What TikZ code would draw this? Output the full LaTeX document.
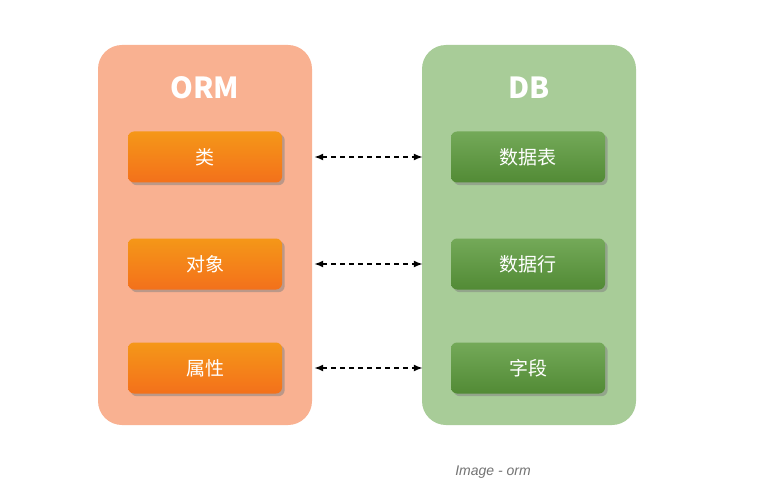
\documentclass[tikz,border=0pt]{standalone}
\usepackage{fontspec}
\setmainfont{Liberation Sans}
\newfontfamily\cjk{Noto Sans CJK SC}
\usetikzlibrary{arrows.meta,shadows}
\definecolor{orpanel}{HTML}{F9B191}
\definecolor{dbpanel}{HTML}{A8CC98}
\definecolor{orbox}{HTML}{F27D1E}
\definecolor{dbbox}{HTML}{5B9A3B}
\tikzset{
  panel/.style={rounded corners=24pt,minimum width=214pt,minimum height=380pt,inner sep=0pt},
  ibox/.style={rounded corners=6pt,minimum width=154pt,minimum height=51pt,inner sep=0pt,text=white,font=\cjk\fontsize{19}{19}\selectfont,drop shadow},
  title/.style={text=white,font=\cjk\fontsize{29}{29}\selectfont\bfseries},
  link/.style={line width=1.6pt,dash pattern=on 5pt off 4pt,{Latex[length=9pt,width=7pt]}-{Latex[length=9pt,width=7pt]}}
}
\begin{document}
\begin{tikzpicture}[x=1pt,y=-1pt]
\useasboundingbox (0,0) rectangle (776,489);
\fill[white] (0,0) rectangle (776,489);
\node[panel,fill=orpanel] (orm) at (205,235) {};
\node[panel,fill=dbpanel] (db) at (529,235) {};
\node[title] (ormt) at (205,88) {ORM};
\node[title] (dbt) at (529,88) {DB};
\node[ibox,top color=orbox!80!yellow,bottom color=orbox!90!red] (a1) at (205,157) {类};
\node[ibox,top color=orbox!80!yellow,bottom color=orbox!90!red] (a2) at (205,264) {对象};
\node[ibox,top color=orbox!80!yellow,bottom color=orbox!90!red] (a3) at (205,368) {属性};
\node[ibox,top color=dbbox!85!white,bottom color=dbbox!90!black] (b1) at (528,157) {数据表};
\node[ibox,top color=dbbox!85!white,bottom color=dbbox!90!black] (b2) at (528,264) {数据行};
\node[ibox,top color=dbbox!85!white,bottom color=dbbox!90!black] (b3) at (528,368) {字段};
\draw[link] ([xshift=32pt]a1.east) -- ([xshift=-28pt]b1.west);
\draw[link] ([xshift=32pt]a2.east) -- ([xshift=-28pt]b2.west);
\draw[link] ([xshift=32pt]a3.east) -- ([xshift=-28pt]b3.west);
\node[text=black!55,font=\itshape\fontsize{14}{14}\selectfont] (cap) at (493,472) {Image - orm};
\end{tikzpicture}
\end{document}
